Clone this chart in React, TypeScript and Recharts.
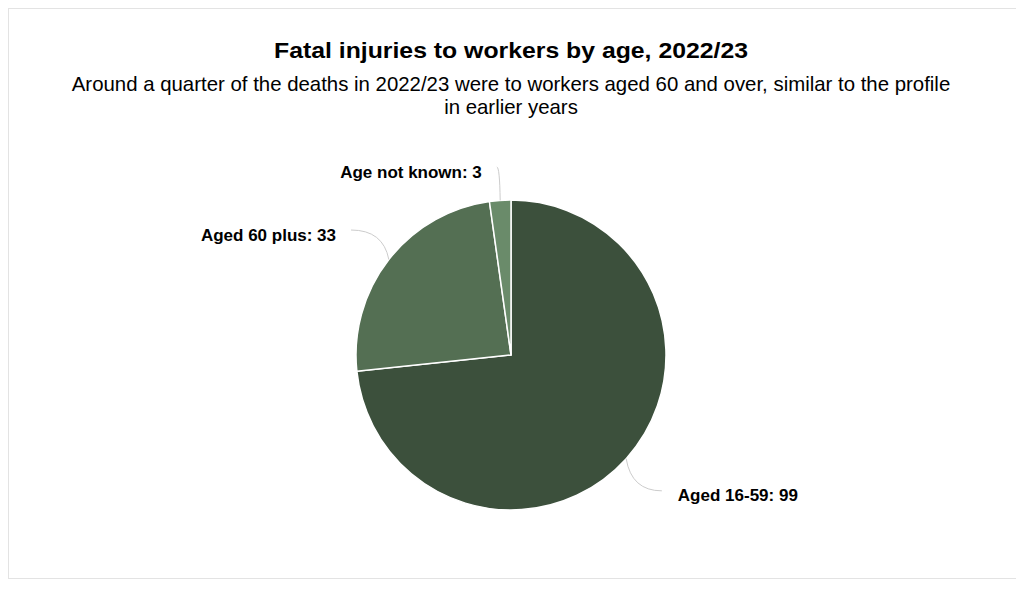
import React from "react";
import { PieChart, Pie, Cell } from "recharts";

const categories = ["Aged 16-59", "Aged 60 plus", "Age not known"];
const values = [99, 33, 3];
const colors = ["#3c503c", "#546f53", "#6a8b6a"];

const title = "Fatal injuries to workers by age, 2022/23";
const subtitleLines = [
  "Around a quarter of the deaths in 2022/23 were to workers aged 60 and over, similar to the profile",
  "in earlier years",
];

const data = categories.map((name, i) => ({ name, value: values[i] }));

const RAD = Math.PI / 180;
const FONT = "'Liberation Sans', Arial, Helvetica, sans-serif";

const renderLabel = (props: any) => {
  const { cx, cy, midAngle, outerRadius, name, value } = props;
  const cos = Math.cos(-midAngle * RAD);
  const sin = Math.sin(-midAngle * RAD);
  const ex = cx + outerRadius * cos;
  const ey = cy + outerRadius * sin;
  const dist = outerRadius + 48;
  let lx = cx + dist * cos;
  let ly = cy + dist * sin;
  const minY = cy - outerRadius - 33;
  if (ly < minY) ly = minY;
  const right = cos >= 0;
  const qx = ex + (lx - ex) * 0.15;
  const path = `M${ex},${ey} Q${qx},${ly} ${lx},${ly}`;
  const tx = right ? lx + 16 : lx - 15;
  return (
    <g>
      <path d={path} stroke="#cccccc" strokeWidth={1} fill="none" />
      <text
        x={tx}
        y={ly + 10.5}
        textAnchor={right ? "start" : "end"}
        fontFamily={FONT}
        fontWeight="bold"
        fontSize={17}
        fill="#000000"
      >
        {`${name}: ${value}`}
      </text>
    </g>
  );
};

export default function App() {
  return (
    <div
      style={{
        position: "relative",
        width: 1010,
        height: 571,
        boxSizing: "border-box",
        border: "1px solid #e3e3e3",
        background: "#ffffff",
        fontFamily: FONT,
      }}
    >
      <PieChart width={1008} height={569} style={{ position: "absolute", left: 0, top: 0 }}>
        <Pie
          data={data}
          dataKey="value"
          nameKey="name"
          cx={497}
          cy={341}
          outerRadius={155}
          startAngle={90}
          endAngle={-270}
          stroke="#ffffff"
          strokeWidth={1.5}
          label={renderLabel}
          labelLine={false}
          isAnimationActive={false}
        >
          {data.map((d, i) => (
            <Cell key={d.name} fill={colors[i]} />
          ))}
        </Pie>
      </PieChart>
      <svg
        width={1008}
        height={140}
        style={{ position: "absolute", left: 0, top: 0, pointerEvents: "none" }}
      >
        <text
          x={502}
          y={48.5}
          textAnchor="middle"
          fontFamily={FONT}
          fontWeight="bold"
          fontSize={22.5}
          textLength={474}
          lengthAdjust="spacingAndGlyphs"
          fill="#000"
        >
          {title}
        </text>
        {subtitleLines.map((l, i) => (
          <text
            key={i}
            x={502}
            y={82 + i * 22.5}
            textAnchor="middle"
            fontFamily={FONT}
            fontSize={20.4}
            fill="#000"
          >
            {l}
          </text>
        ))}
      </svg>
    </div>
  );
}
